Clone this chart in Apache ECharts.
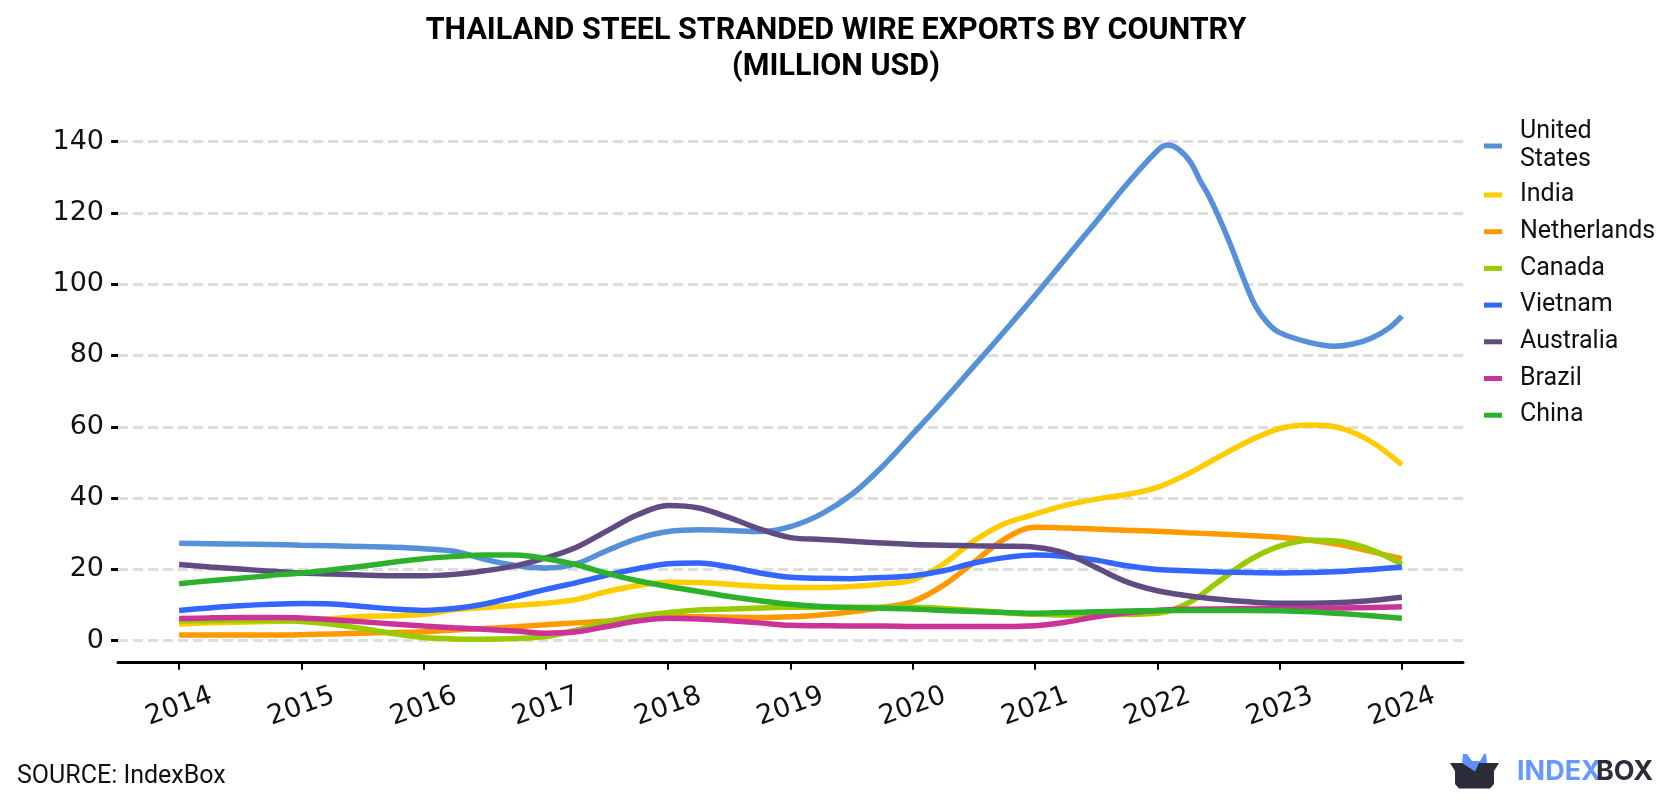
<!DOCTYPE html>
<html>
<head>
<meta charset="utf-8">
<title>Thailand Steel Stranded Wire Exports by Country</title>
<script src="https://cdn.jsdelivr.net/npm/echarts@6/dist/echarts.min.js"></script>
<style>
  html, body { margin: 0; padding: 0; background: #fff; }
  #chart { width: 1680px; height: 800px; }
</style>
</head>
<body>
<div id="chart"></div>
<script>
// Axis years and tick labels
const tickYears = [2014, 2015, 2016, 2017, 2018, 2019, 2020, 2021, 2022, 2023, 2024];

// Quarter-year sampling shared by most series
const quarterYears = [
  2014, 2014.25, 2014.5, 2014.75, 2015, 2015.25, 2015.5, 2015.75,
  2016, 2016.25, 2016.5, 2016.75, 2017, 2017.25, 2017.5, 2017.75,
  2018, 2018.25, 2018.5, 2018.75, 2019, 2019.25, 2019.5, 2019.75,
  2020, 2020.25, 2020.5, 2020.75, 2021, 2021.25, 2021.5, 2021.75,
  2022, 2022.25, 2022.5, 2022.75, 2023, 2023.25, 2023.5, 2023.75, 2024
];

// The United States curve has a sharp peak, so it is sampled more finely after 2022
const unitedStatesYears = [
  2014, 2014.25, 2014.5, 2014.75, 2015, 2015.25, 2015.5, 2015.75,
  2016, 2016.25, 2016.5, 2016.75, 2017, 2017.25, 2017.5, 2017.75,
  2018, 2018.25, 2018.5, 2018.75, 2019, 2019.25, 2019.5, 2019.75,
  2020, 2020.25, 2020.5, 2020.75, 2021, 2021.25, 2021.5, 2021.75,
  2022, 2022.08, 2022.17, 2022.27, 2022.35, 2022.42, 2022.5, 2022.6, 2022.7, 2022.8, 2022.9,
  2023, 2023.25, 2023.45, 2023.6, 2023.75, 2023.9, 2024
];
const unitedStates = [
  27.3, 27.2, 27.1, 27.0, 26.8, 26.6, 26.4, 26.2,
  25.8, 25.1, 22.8, 21.1, 20.4, 21.6, 25.3, 28.6,
  30.6, 31.1, 30.9, 30.6, 32.0, 35.5, 41.0, 48.8,
  58.0, 67.3, 77.0, 86.8, 96.8, 107.2, 117.5, 128.0,
  137.4, 139.0, 137.9, 134.3, 129.0, 124.8, 119.0, 110.9, 102.0, 94.0, 89.2,
  86.4, 83.6, 82.6, 83.2, 84.8, 87.8, 91.0
];

// Remaining exporters, million USD
const india = [
  4.7, 5.0, 5.2, 5.4, 5.7, 6.2, 6.8, 7.0,
  7.4, 8.7, 9.3, 9.9, 10.5, 11.6, 13.8, 15.5,
  16.4, 16.3, 15.8, 15.2, 14.9, 14.9, 15.2, 15.9,
  17.0, 21.5, 28.0, 32.8, 35.5, 38.0, 39.7, 41.0,
  43.0, 46.8, 51.5, 56.0, 59.5, 60.5, 59.6, 55.8, 49.3
];
const netherlands = [
  1.6, 1.6, 1.6, 1.6, 1.7, 1.9, 2.1, 2.3,
  2.5, 3.0, 3.4, 3.9, 4.5, 5.0, 5.5, 6.1,
  6.7, 6.7, 6.6, 6.5, 6.7, 7.2, 8.1, 9.3,
  11.0, 15.5, 22.0, 28.5, 31.8, 31.6, 31.3, 31.0,
  30.7, 30.3, 29.9, 29.5, 29.0, 28.2, 26.9, 25.0, 23.0
];
const canada = [
  5.5, 5.6, 5.7, 5.6, 5.4, 4.6, 3.4, 2.0,
  0.9, 0.5, 0.4, 0.6, 1.2, 3.0, 5.3, 6.9,
  7.9, 8.6, 8.9, 9.2, 9.4, 9.4, 9.4, 9.4,
  9.4, 9.0, 8.5, 7.9, 7.4, 7.2, 7.2, 7.4,
  7.7, 10.5, 16.5, 22.5, 26.5, 28.2, 27.8, 25.5, 21.4
];
const vietnam = [
  8.5, 9.2, 9.8, 10.2, 10.4, 10.3, 9.6, 8.9,
  8.5, 9.0, 10.3, 12.3, 14.4, 16.3, 18.4, 20.2,
  21.6, 21.8, 20.7, 19.0, 17.8, 17.5, 17.4, 17.7,
  18.2, 19.6, 21.8, 23.3, 24.0, 23.6, 22.6, 21.0,
  20.0, 19.6, 19.3, 19.1, 19.0, 19.1, 19.4, 20.0, 20.7
];
const australia = [
  21.4, 20.7, 20.1, 19.5, 19.0, 18.7, 18.4, 18.2,
  18.2, 18.6, 19.6, 21.0, 23.2, 26.2, 30.8, 35.3,
  37.9, 37.2, 34.5, 31.3, 28.9, 28.4, 27.9, 27.4,
  27.0, 26.8, 26.6, 26.5, 26.2, 24.5, 20.5, 16.5,
  14.0, 12.6, 11.6, 10.9, 10.5, 10.5, 10.7, 11.3, 12.2
];
const brazil = [
  6.2, 6.4, 6.5, 6.5, 6.4, 5.9, 5.3, 4.7,
  4.1, 3.6, 3.2, 2.7, 2.1, 2.5, 4.0, 5.5,
  6.3, 6.1, 5.6, 5.0, 4.3, 4.2, 4.1, 4.1,
  4.0, 4.0, 4.0, 4.0, 4.2, 5.2, 6.7, 7.8,
  8.5, 8.8, 8.9, 9.0, 9.0, 9.1, 9.2, 9.3, 9.5
];
const china = [
  16.0, 16.8, 17.5, 18.3, 19.0, 19.9, 20.9, 22.0,
  23.0, 23.6, 24.0, 24.0, 23.0, 21.3, 18.9, 16.8,
  15.2, 13.8, 12.4, 11.2, 10.2, 9.6, 9.3, 9.1,
  8.9, 8.5, 8.2, 7.9, 7.7, 7.9, 8.1, 8.3,
  8.5, 8.5, 8.5, 8.5, 8.4, 8.1, 7.6, 7.0, 6.3
];

const seriesNames = ['United States', 'India', 'Netherlands', 'Canada', 'Vietnam', 'Australia', 'Brazil', 'China'];
const seriesColors = ['#5690d8', '#ffcc00', '#ff9900', '#99cc00', '#3366ff', '#604b82', '#cc3399', '#2db12d'];
const seriesValues = [unitedStates, india, netherlands, canada, vietnam, australia, brazil, china];

const pairUp = (years, values) => years.map((y, i) => [y, values[i]]);
const textFont = 'Roboto';
const axisFont = '"DejaVu Sans"';

const chart = echarts.init(document.getElementById('chart'), null, { renderer: 'canvas' });

const legendBase = {
  orient: 'vertical',
  left: 1479,
  icon: 'rect',
  itemWidth: 18,
  itemHeight: 5,
  textStyle: { fontFamily: textFont, fontSize: 25, color: '#111', padding: [0, 0, 0, 13] }
};

chart.setOption({
  animation: false,
  backgroundColor: '#ffffff',
  title: {
    text: 'THAILAND STEEL STRANDED WIRE EXPORTS BY COUNTRY\n(MILLION USD)',
    left: 831,
    top: 8,
    textAlign: 'center',
    textStyle: { fontFamily: textFont, fontWeight: 'bold', fontSize: 30.5, lineHeight: 36, color: '#000' }
  },
  legend: [
    Object.assign({}, legendBase, {
      top: 113,
      data: ['United States'],
      formatter: n => n.replace(' ', '\n'),
      textStyle: Object.assign({}, legendBase.textStyle, { lineHeight: 28 })
    }),
    Object.assign({}, legendBase, {
      top: 177.5,
      itemGap: 11.7,
      data: seriesNames.slice(1),
      textStyle: Object.assign({}, legendBase.textStyle, { lineHeight: 25 })
    })
  ],
  grid: { left: 118, right: 217, top: 141.5, height: 499.2, containLabel: false },
  xAxis: {
    type: 'value',
    min: 2013.5,
    max: 2024.5,
    offset: 22,
    splitLine: { show: false },
    axisLine: { show: true, onZero: false, lineStyle: { color: '#000', width: 3 } },
    axisTick: { show: true, length: 7, customValues: tickYears, lineStyle: { color: '#000', width: 2 } },
    axisLabel: {
      customValues: tickYears,
      formatter: v => String(v),
      rotate: 20,
      align: 'center',
      verticalAlign: 'middle',
      margin: 44,
      fontFamily: axisFont,
      fontSize: 27,
      color: '#111'
    }
  },
  yAxis: {
    type: 'value',
    min: 0,
    max: 140,
    interval: 20,
    axisLine: { show: false },
    axisTick: { show: true, length: 7, lineStyle: { color: '#000', width: 3 } },
    axisLabel: { margin: 14, fontFamily: axisFont, fontSize: 27, color: '#111' },
    splitLine: { show: true, lineStyle: { color: '#dddddd', width: 3, type: [10, 5] } }
  },
  series: seriesNames.map((name, i) => ({
    name,
    type: 'line',
    smooth: 0.35,
    showSymbol: false,
    symbol: 'none',
    clip: false,
    color: seriesColors[i],
    lineStyle: { color: seriesColors[i], width: 5.5, cap: 'butt' },
    data: pairUp(i === 0 ? unitedStatesYears : quarterYears, seriesValues[i])
  })),
  graphic: [
    {
      type: 'text', left: 17, top: 764,
      style: { text: 'SOURCE: IndexBox', fontFamily: textFont, fontSize: 25, fill: '#111' }
    },
    {
      type: 'polygon', silent: true,
      shape: { points: [[1450, 763], [1499, 763], [1494, 771], [1494, 784], [1490, 788.5], [1459, 788.5], [1455, 784], [1455, 771]] },
      style: { fill: '#2b2d38' }
    },
    {
      type: 'polygon', silent: true,
      shape: { points: [[1462, 763], [1463, 754], [1467, 754], [1472, 761], [1480, 761], [1484, 754], [1486, 754], [1487, 763], [1479, 763], [1475, 771.5]] },
      style: { fill: '#5b92ff' }
    },
    {
      type: 'text', left: 1517, top: 758,
      style: { text: 'INDEX', fontFamily: 'Inter', fontWeight: 'bold', fontSize: 27, fill: '#6699ff' }
    },
    {
      type: 'text', left: 1596, top: 758,
      style: { text: 'BOX', fontFamily: 'Inter', fontWeight: 'bold', fontSize: 27, fill: '#2b2d38' }
    }
  ]
});
</script>
</body>
</html>
